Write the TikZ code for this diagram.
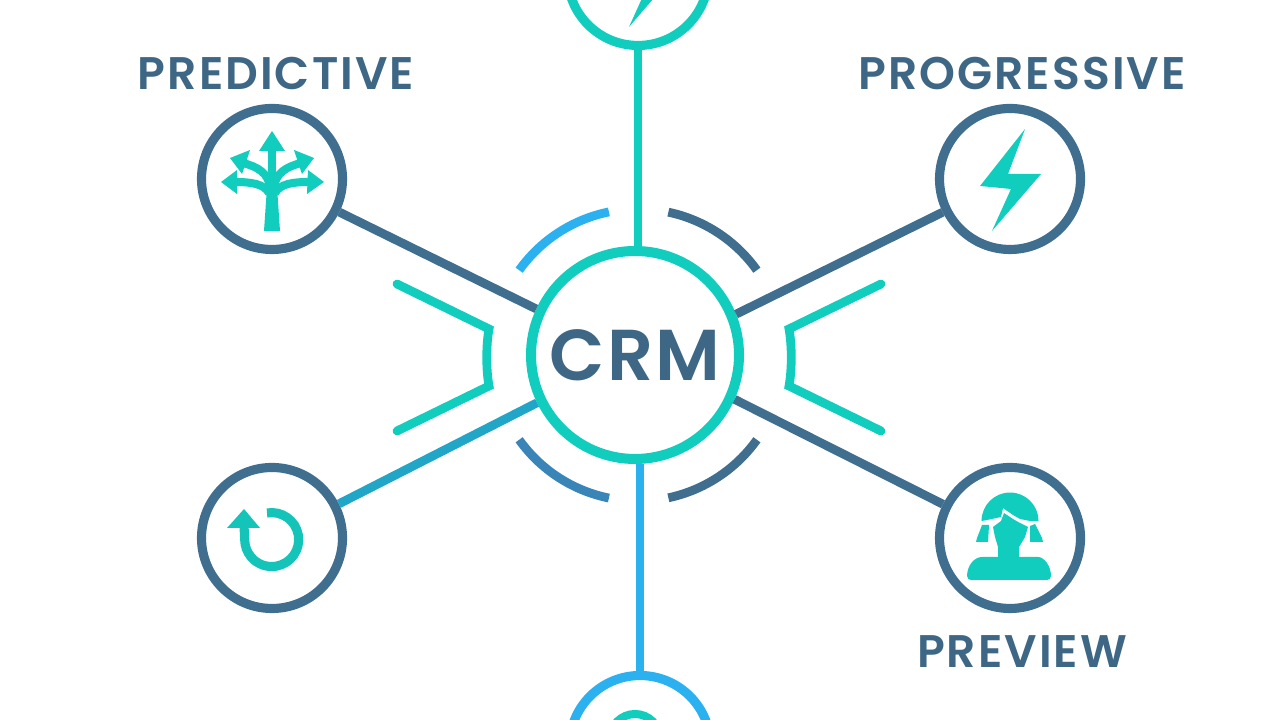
\documentclass[tikz,border=0pt]{standalone}
\usepackage{fontspec}
\setmainfont{Poppins}
\newfontfamily\labelfont[LetterSpace=4.5]{Poppins SemiBold}
\newfontfamily\hubfont[LetterSpace=3.0]{Poppins SemiBold}
\usetikzlibrary{positioning,calc}
\definecolor{slateblue}{HTML}{3F6E8F}
\definecolor{inkblue}{HTML}{3D6784}
\definecolor{tealgreen}{HTML}{10CDBE}
\definecolor{skyblue}{HTML}{2BB1F0}
\definecolor{midblue}{HTML}{3A85B8}
\definecolor{cyanblue}{HTML}{22A6C8}
\tikzset{
	hub/.style={circle,draw=tealgreen,fill=white,line width=2.85pt,minimum size=2.08cm,inner sep=0pt,text=inkblue,font=\hubfont\fontsize{20.5}{24}\selectfont},
	satellite/.style={circle,draw=#1,fill=white,line width=2.6pt,minimum size=1.41cm,inner sep=0pt},
	spoke/.style={draw=#1,line width=2.5pt},
	ring/.style={draw=#1,line width=2.5pt},
	bracket/.style={draw=tealgreen,line width=2.5pt,line join=miter,line cap=round},
	tag/.style={text=inkblue,font=\labelfont\fontsize{13}{15}\selectfont},
	icon/.style={x=0.01cm,y=0.01cm}
}
\newcommand{\boltshape}{\fill[tealgreen] (15,50) -- (-30,-7) -- (1,-10) -- (-18,-52) -- (31,5) -- (-2,5) -- cycle;}
\begin{document}
\begin{tikzpicture}
	\useasboundingbox (0,0) rectangle (12.8,7.2);
	\clip (0,0) rectangle (12.8,7.2);

	\node[hub] (crm) at (6.35,3.65) {CRM};
	\node[satellite=slateblue] (predictive) at (2.72,5.41) {};
	\node[satellite=slateblue] (progressive) at (10.10,5.41) {};
	\node[satellite=slateblue] (loop) at (2.72,1.82) {};
	\node[satellite=slateblue] (preview) at (10.10,1.82) {};
	\node[satellite=tealgreen] (top) at (6.38,7.45) {};
	\node[satellite=skyblue] (bottom) at (6.40,-0.26) {};

	\node[tag] (predictive label) at (2.76,6.46) {PREDICTIVE};
	\node[tag] (progressive label) at (10.22,6.46) {PROGRESSIVE};
	\node[tag] (preview label) at (10.22,0.68) {PREVIEW};

	% spokes
	\draw[spoke=tealgreen] (top.south) -- (top.south |- crm.north);
	\draw[spoke=skyblue] (bottom.north) -- (bottom.north |- crm.south);
	\draw[spoke=slateblue] (predictive) -- (crm.155.8);
	\draw[spoke=slateblue] (progressive) -- (crm.22.4);
	\draw[spoke=cyanblue] (loop) -- (crm.206);
	\draw[spoke=slateblue] (preview) -- (crm.-24.5);

	% arcs round the hub
	\coordinate (arc centre) at (6.38,3.65);
	\draw[ring=skyblue] ($(arc centre)+(101.5:1.46)$) arc (101.5:144.5:1.46);
	\draw[ring=slateblue] ($(arc centre)+(78:1.46)$) arc (78:35.5:1.46);
	\draw[ring=midblue] ($(arc centre)+(-101.5:1.46)$) arc (-101.5:-144.5:1.46);
	\draw[ring=slateblue] ($(arc centre)+(-78:1.46)$) arc (-78:-35.5:1.46);

	% brackets
	\draw[bracket] (3.97,4.36) -- (4.89,3.91) .. controls (4.86,3.75) and (4.86,3.50) .. (4.89,3.34) -- (3.97,2.89);
	\draw[bracket] (8.81,4.36) -- (7.89,3.91) .. controls (7.92,3.75) and (7.92,3.50) .. (7.89,3.34) -- (8.81,2.89);

	% icons
	\begin{scope}[icon,shift={(predictive)}]
		\fill[tealgreen] (-8,-52) -- (8,-52) -- (5,-8) -- (-5,-8) -- cycle;
		\fill[tealgreen] (0,48) -- (-13,28) -- (13,28) -- cycle;
		\fill[tealgreen] (-42,21) -- (-22,29) -- (-30,5) -- cycle;
		\fill[tealgreen] (42,21) -- (22,29) -- (30,5) -- cycle;
		\fill[tealgreen] (-51,-3) -- (-35,9) -- (-35,-15) -- cycle;
		\fill[tealgreen] (52,-3) -- (36,9) -- (35,-15) -- cycle;
		\draw[tealgreen,line width=2.3pt] (0,30) -- (0,-12);
		\draw[tealgreen,line width=2.3pt] (-29,16) .. controls (-14,12) and (-4,6) .. (-2,-8);
		\draw[tealgreen,line width=2.3pt] (29,16) .. controls (14,12) and (4,6) .. (2,-8);
		\draw[tealgreen,line width=2.3pt] (-38,-3) .. controls (-20,-3) and (-8,-5) .. (-3,-14);
		\draw[tealgreen,line width=2.3pt] (38,-3) .. controls (20,-3) and (8,-5) .. (3,-14);
	\end{scope}
	\begin{scope}[icon,shift={(progressive)}]
		\boltshape
	\end{scope}
	\begin{scope}[icon,shift={(top)},xshift=0.09cm]
		\boltshape
	\end{scope}
	\begin{scope}[icon,shift={(loop)}]
		\draw[tealgreen!90!slateblue,line width=2.6pt] (-5,25) arc (100:-180:27) -- (-28,12);
		\fill[tealgreen!90!slateblue] (-28,29) -- (-45,10) -- (-12,10) -- cycle;
	\end{scope}
	\begin{scope}[icon,shift={(preview)}]
		\fill[tealgreen] (-28.5,17) arc (180:0:28.5) -- (20,17) -- (10,19) -- (3,23) -- (-7,30) -- (-9,21) -- (-23,18) -- cycle;
		\fill[tealgreen] (-17,11) -- (-9,17) -- (-6,25) -- (3,19) -- (10,15) -- (18,11) -- (15,1) -- (9,-9) -- (9,-20) -- (-12,-20) -- (-12,-9) -- (-15,1) -- cycle;
		\fill[tealgreen] (-43,-38) .. controls (-43,-28) and (-36,-19) .. (-28,-19) -- (28,-19) .. controls (34,-19) and (41,-28) .. (41,-38) .. controls (41,-41) and (39,-42) .. (37,-42) -- (-39,-42) .. controls (-41,-42) and (-43,-41) .. (-43,-38) -- cycle;
		\fill[tealgreen] (-28,13) -- (-21,13) -- (-22,-4) -- (-34,-4) -- (-33,0) -- cycle;
		\fill[tealgreen] (25,14) -- (20,12) -- (20,-4) -- (33,-4) -- (32,0) -- cycle;
	\end{scope}
	\begin{scope}[icon,shift={(bottom)}]
		\draw[tealgreen,line width=2.3pt] (-5,7) circle (25);
	\end{scope}
\end{tikzpicture}
\end{document}
